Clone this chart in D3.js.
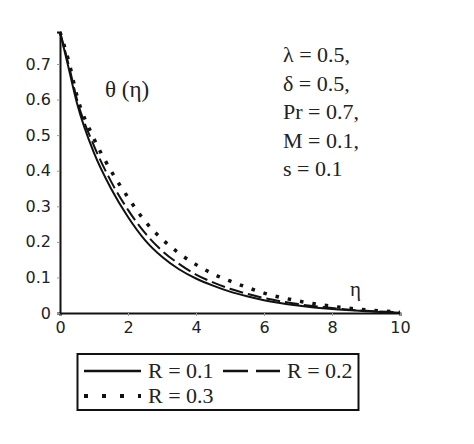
<!DOCTYPE html>
<html>
<head>
<meta charset="utf-8">
<script src="https://cdn.jsdelivr.net/npm/d3@7"></script>
<style>
  body { margin: 0; background: #fff; }
  svg { display: block; }
</style>
</head>
<body>
<div id="chart"></div>
<script>
const width = 474, height = 444;

// eta values
const eta = [0, 0.25, 0.5, 1, 1.5, 2, 2.5, 3, 3.5, 4, 4.5, 5, 5.5, 6, 7, 8, 9, 10];
const thetaR01 = [0.79, 0.69, 0.59, 0.45, 0.35, 0.27, 0.205, 0.158, 0.123, 0.097, 0.077, 0.06, 0.047, 0.036, 0.021, 0.011, 0.005, 0.001];
const thetaR02 = [0.79, 0.70, 0.60, 0.47, 0.37, 0.29, 0.225, 0.175, 0.138, 0.108, 0.086, 0.068, 0.054, 0.042, 0.025, 0.014, 0.006, 0.002];
const thetaR03 = [0.79, 0.71, 0.61, 0.49, 0.40, 0.325, 0.258, 0.208, 0.168, 0.136, 0.11, 0.09, 0.072, 0.056, 0.034, 0.019, 0.009, 0.003];

const seriesNames = ['R = 0.1', 'R = 0.2', 'R = 0.3'];
const xTicks = [0, 2, 4, 6, 8, 10];
const yTicks = [0, 0.1, 0.2, 0.3, 0.4, 0.5, 0.6, 0.7];
const params = ['λ = 0.5,', 'δ = 0.5,', 'Pr = 0.7,', 'M = 0.1,', 's = 0.1'];

const series = [
    { name: seriesNames[0], values: thetaR01, dash: null, width: 2 },
    { name: seriesNames[1], values: thetaR02, dash: '14,5', width: 2 },
    { name: seriesNames[2], values: thetaR03, dash: '3.5,9', width: 3.5 }
];

const x = d3.scaleLinear().domain([0, 10]).range([60, 400]);
const y = d3.scaleLinear().domain([0, 0.79]).range([313, 32]);

const svg = d3.select('#chart').append('svg')
    .attr('width', width)
    .attr('height', height);

// axes
const xAxis = svg.append('g')
    .attr('transform', 'translate(0,313)')
    .call(d3.axisBottom(x).tickValues(xTicks).tickSize(3).tickPadding(2).tickFormat(d3.format('d')));
const yAxis = svg.append('g')
    .attr('transform', 'translate(60,0)')
    .call(d3.axisLeft(y).tickValues(yTicks).tickSize(3).tickPadding(6).tickFormat(d => d === 0 ? '0' : d3.format('.1f')(d)));

[xAxis, yAxis].forEach(a => {
    a.select('.domain').attr('stroke', '#111').attr('stroke-width', 2);
    a.selectAll('.tick line').attr('stroke', '#999').attr('stroke-width', 1);
    a.selectAll('.tick text')
        .attr('fill', '#222')
        .style('font', '16px "DejaVu Sans", sans-serif');
});
xAxis.selectAll('.tick text').attr('dy', '0.95em');

// curves
const line = d3.line()
    .x((d, i) => x(eta[i]))
    .y(d => y(d))
    .curve(d3.curveMonotoneX);

svg.append('g').selectAll('path')
    .data(series)
    .enter().append('path')
    .attr('d', d => line(d.values))
    .attr('fill', 'none')
    .attr('stroke', '#111')
    .attr('stroke-width', d => d.width)
    .attr('stroke-dasharray', d => d.dash);

// labels
svg.append('text')
    .attr('x', 105).attr('y', 97)
    .attr('fill', '#222')
    .style('font', '23px "Liberation Serif", serif')
    .text('θ (η)');

svg.append('text')
    .attr('x', 350).attr('y', 296)
    .attr('fill', '#222')
    .style('font', '21px "Liberation Serif", serif')
    .text('η');

svg.append('g').selectAll('text')
    .data(params)
    .enter().append('text')
    .attr('x', 283)
    .attr('y', (d, i) => 62 + i * 28.5)
    .attr('fill', '#222')
    .style('font', '22px "Liberation Serif", serif')
    .text(d => d);

// legend
const legend = svg.append('g');
legend.append('rect')
    .attr('x', 77.5).attr('y', 354)
    .attr('width', 281).attr('height', 56)
    .attr('fill', 'none')
    .attr('stroke', '#111')
    .attr('stroke-width', 2);

const legendPos = [
    { x: 84, y: 371 },
    { x: 223, y: 371 },
    { x: 84, y: 396 }
];
const legendDash = [null, '25,8', '4,14'];

series.forEach((s, i) => {
    const p = legendPos[i];
    legend.append('line')
        .attr('x1', p.x).attr('x2', p.x + 57)
        .attr('y1', p.y).attr('y2', p.y)
        .attr('stroke', '#111')
        .attr('stroke-width', i === 2 ? 4 : 2.5)
        .attr('stroke-dasharray', legendDash[i]);
    legend.append('text')
        .attr('x', p.x + 64).attr('y', p.y + 7)
        .attr('fill', '#222')
        .style('font', '22px "Liberation Serif", serif')
        .text(s.name);
});
</script>
</body>
</html>
